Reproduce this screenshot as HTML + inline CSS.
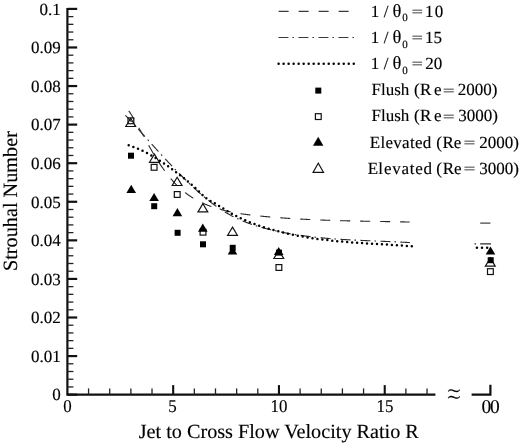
<!DOCTYPE html><html><head><meta charset="utf-8"><style>html,body{margin:0;padding:0;background:#fff;overflow:hidden;}svg{display:block;}text{font-family:"Liberation Serif","Times New Roman",serif;fill:#000;stroke:#000;stroke-width:0.15px;text-rendering:geometricPrecision;}</style></head><body>
<svg width="520" height="443" viewBox="0 0 520 443">
<rect width="520" height="443" fill="#fff"/>
<path d="M67.4 7.9 V394.65 H435.4" fill="none" stroke="#111" stroke-width="2.2"/>
<path d="M67.4 394.65 H77.2" stroke="#111" stroke-width="2.2"/>
<path d="M67.4 356.07 H77.2" stroke="#111" stroke-width="2.2"/>
<path d="M67.4 317.5 H77.2" stroke="#111" stroke-width="2.2"/>
<path d="M67.4 278.92 H77.2" stroke="#111" stroke-width="2.2"/>
<path d="M67.4 240.35 H77.2" stroke="#111" stroke-width="2.2"/>
<path d="M67.4 201.77 H77.2" stroke="#111" stroke-width="2.2"/>
<path d="M67.4 163.2 H77.2" stroke="#111" stroke-width="2.2"/>
<path d="M67.4 124.62 H77.2" stroke="#111" stroke-width="2.2"/>
<path d="M67.4 86.05 H77.2" stroke="#111" stroke-width="2.2"/>
<path d="M67.4 47.47 H77.2" stroke="#111" stroke-width="2.2"/>
<path d="M67.4 8.9 H77.2" stroke="#111" stroke-width="2.2"/>
<path d="M67.4 386.94 H73.4" stroke="#222" stroke-width="1.3"/>
<path d="M67.4 379.22 H73.4" stroke="#222" stroke-width="1.3"/>
<path d="M67.4 371.5 H73.4" stroke="#222" stroke-width="1.3"/>
<path d="M67.4 363.79 H73.4" stroke="#222" stroke-width="1.3"/>
<path d="M67.4 348.36 H73.4" stroke="#222" stroke-width="1.3"/>
<path d="M67.4 340.64 H73.4" stroke="#222" stroke-width="1.3"/>
<path d="M67.4 332.93 H73.4" stroke="#222" stroke-width="1.3"/>
<path d="M67.4 325.21 H73.4" stroke="#222" stroke-width="1.3"/>
<path d="M67.4 309.78 H73.4" stroke="#222" stroke-width="1.3"/>
<path d="M67.4 302.07 H73.4" stroke="#222" stroke-width="1.3"/>
<path d="M67.4 294.35 H73.4" stroke="#222" stroke-width="1.3"/>
<path d="M67.4 286.64 H73.4" stroke="#222" stroke-width="1.3"/>
<path d="M67.4 271.21 H73.4" stroke="#222" stroke-width="1.3"/>
<path d="M67.4 263.5 H73.4" stroke="#222" stroke-width="1.3"/>
<path d="M67.4 255.78 H73.4" stroke="#222" stroke-width="1.3"/>
<path d="M67.4 248.06 H73.4" stroke="#222" stroke-width="1.3"/>
<path d="M67.4 232.63 H73.4" stroke="#222" stroke-width="1.3"/>
<path d="M67.4 224.92 H73.4" stroke="#222" stroke-width="1.3"/>
<path d="M67.4 217.2 H73.4" stroke="#222" stroke-width="1.3"/>
<path d="M67.4 209.49 H73.4" stroke="#222" stroke-width="1.3"/>
<path d="M67.4 194.06 H73.4" stroke="#222" stroke-width="1.3"/>
<path d="M67.4 186.34 H73.4" stroke="#222" stroke-width="1.3"/>
<path d="M67.4 178.63 H73.4" stroke="#222" stroke-width="1.3"/>
<path d="M67.4 170.91 H73.4" stroke="#222" stroke-width="1.3"/>
<path d="M67.4 155.48 H73.4" stroke="#222" stroke-width="1.3"/>
<path d="M67.4 147.77 H73.4" stroke="#222" stroke-width="1.3"/>
<path d="M67.4 140.05 H73.4" stroke="#222" stroke-width="1.3"/>
<path d="M67.4 132.34 H73.4" stroke="#222" stroke-width="1.3"/>
<path d="M67.4 116.91 H73.4" stroke="#222" stroke-width="1.3"/>
<path d="M67.4 109.19 H73.4" stroke="#222" stroke-width="1.3"/>
<path d="M67.4 101.48 H73.4" stroke="#222" stroke-width="1.3"/>
<path d="M67.4 93.76 H73.4" stroke="#222" stroke-width="1.3"/>
<path d="M67.4 78.33 H73.4" stroke="#222" stroke-width="1.3"/>
<path d="M67.4 70.62 H73.4" stroke="#222" stroke-width="1.3"/>
<path d="M67.4 62.9 H73.4" stroke="#222" stroke-width="1.3"/>
<path d="M67.4 55.19 H73.4" stroke="#222" stroke-width="1.3"/>
<path d="M67.4 39.76 H73.4" stroke="#222" stroke-width="1.3"/>
<path d="M67.4 32.04 H73.4" stroke="#222" stroke-width="1.3"/>
<path d="M67.4 24.33 H73.4" stroke="#222" stroke-width="1.3"/>
<path d="M67.4 16.62 H73.4" stroke="#222" stroke-width="1.3"/>
<path d="M88.56 394.65 V388.4" stroke="#222" stroke-width="1.3"/>
<path d="M109.71 394.65 V388.4" stroke="#222" stroke-width="1.3"/>
<path d="M130.87 394.65 V388.4" stroke="#222" stroke-width="1.3"/>
<path d="M152.02 394.65 V388.4" stroke="#222" stroke-width="1.3"/>
<path d="M173.18 394.65 V385.1" stroke="#111" stroke-width="2.1"/>
<path d="M194.33 394.65 V388.4" stroke="#222" stroke-width="1.3"/>
<path d="M215.49 394.65 V388.4" stroke="#222" stroke-width="1.3"/>
<path d="M236.64 394.65 V388.4" stroke="#222" stroke-width="1.3"/>
<path d="M257.8 394.65 V388.4" stroke="#222" stroke-width="1.3"/>
<path d="M278.95 394.65 V385.1" stroke="#111" stroke-width="2.1"/>
<path d="M300.11 394.65 V388.4" stroke="#222" stroke-width="1.3"/>
<path d="M321.26 394.65 V388.4" stroke="#222" stroke-width="1.3"/>
<path d="M342.41 394.65 V388.4" stroke="#222" stroke-width="1.3"/>
<path d="M363.57 394.65 V388.4" stroke="#222" stroke-width="1.3"/>
<path d="M384.73 394.65 V385.1" stroke="#111" stroke-width="2.1"/>
<path d="M405.88 394.65 V388.4" stroke="#222" stroke-width="1.3"/>
<path d="M427.03 394.65 V388.4" stroke="#222" stroke-width="1.3"/>
<path d="M471.6 394.65 H490.4 V384.8" fill="none" stroke="#111" stroke-width="2.2"/>
<text x="60.7" y="400.4" font-size="17" text-anchor="end">0</text>
<text x="60.7" y="361.82" font-size="17" text-anchor="end">0.01</text>
<text x="60.7" y="323.25" font-size="17" text-anchor="end">0.02</text>
<text x="60.7" y="284.67" font-size="17" text-anchor="end">0.03</text>
<text x="60.7" y="246.1" font-size="17" text-anchor="end">0.04</text>
<text x="60.7" y="207.52" font-size="17" text-anchor="end">0.05</text>
<text x="60.7" y="168.95" font-size="17" text-anchor="end">0.06</text>
<text x="60.7" y="130.37" font-size="17" text-anchor="end">0.07</text>
<text x="60.7" y="91.8" font-size="17" text-anchor="end">0.08</text>
<text x="60.7" y="53.22" font-size="17" text-anchor="end">0.09</text>
<text x="60.7" y="14.65" font-size="17" text-anchor="end">0.1</text>
<text transform="translate(67.4 411.7) scale(0.94 1)" font-size="18" text-anchor="middle">0</text>
<text transform="translate(172.48 411.7) scale(0.94 1)" font-size="18" text-anchor="middle">5</text>
<text transform="translate(279 411.7) scale(0.94 1)" font-size="18" text-anchor="middle">10</text>
<text transform="translate(385.08 411.7) scale(0.94 1)" font-size="18" text-anchor="middle">15</text>
<text x="481.45" y="413" font-size="19.5" letter-spacing="-1.3">00</text>
<text transform="translate(444.96 403.2) scale(1 1.41)" font-size="18.9" style="font-family:NanumGothic,'Liberation Serif',serif;stroke-width:0.15px">&#8776;</text>
<text x="138.75" y="438.3" font-size="20.2">Jet to Cross Flow Velocity Ratio R</text>
<text transform="translate(16.8 271.1) rotate(-90)" font-size="20.25">Strouhal Number</text>
<path d="M128.7 110.8 L129.2 111.48 L129.7 112.19 L130.2 112.93 L130.7 113.69 L131.2 114.47 L131.7 115.28 L132.2 116.1 L132.7 116.94 L133.2 117.79 L133.7 118.66 L134.2 119.54 L134.7 120.42 L135.2 121.32 L135.7 122.22 L136.2 123.12 L136.7 124.02 L137.2 124.92 L137.7 125.81 L138.2 126.7 L138.7 127.59 L139.2 128.47 L139.7 129.34 L140.2 130.2 L140.7 131.07 L141.2 131.93 L141.7 132.8 L142.2 133.67 L142.7 134.54 L143.2 135.41 L143.7 136.3 L144.2 137.19 L144.7 138.09 L145.2 139 L145.7 139.91 L146.2 140.83 L146.7 141.75 L147.2 142.66 L147.7 143.58 L148.2 144.49 L148.7 145.39 L149.2 146.29 L149.7 147.19 L150.2 148.07 L150.7 148.95 L151.2 149.83 L151.7 150.69 L152.2 151.55 L152.7 152.41 L153.2 153.25 L153.7 154.09 L154.2 154.93 L154.7 155.75 L155.2 156.58 L155.7 157.39 L156.2 158.2 L156.7 159 L157.2 159.79 L157.7 160.58 L158.2 161.36 L158.7 162.13 L159.2 162.89 L159.7 163.65 L160.2 164.4 L160.7 165.15 L161.2 165.89 L161.7 166.62 L162.2 167.34 L162.7 168.06 L163.2 168.77 L163.7 169.47 L164.2 170.16 L164.7 170.85 L165.2 171.53 L165.7 172.2 L166.2 172.87 L166.7 173.52 L167.2 174.17 L167.7 174.82 L168.2 175.45 L168.7 176.08 L169.2 176.7 L169.7 177.31 L170.2 177.92 L170.7 178.51 L171.2 179.1 L171.7 179.69 L172.2 180.26 L172.7 180.83 L173.2 181.38 L173.7 181.93 L174.2 182.48 L174.7 183.01 L175.2 183.54 L175.7 184.06 L176.2 184.57 L176.7 185.08 L177.2 185.58 L177.7 186.07 L178.2 186.55 L178.7 187.03 L179.2 187.5 L179.7 187.96 L180.2 188.42 L180.7 188.87 L181.2 189.31 L181.7 189.75 L182.2 190.18 L182.7 190.6 L183.2 191.02 L183.7 191.43 L184.2 191.83 L184.7 192.23 L185.2 192.63 L185.7 193.01 L186.2 193.39 L186.7 193.77 L187.2 194.14 L187.7 194.5 L188.2 194.86 L188.7 195.21 L189.2 195.56 L189.7 195.9 L190.2 196.23 L190.7 196.56 L191.2 196.89 L191.7 197.21 L192.2 197.53 L192.7 197.84 L193.2 198.14 L193.7 198.44 L194.2 198.74 L194.7 199.03 L195.2 199.32 L195.7 199.6 L196.2 199.88 L196.7 200.15 L197.2 200.42 L197.7 200.68 L198.2 200.94 L198.7 201.2 L199.2 201.45 L199.7 201.7 L200.2 201.95 L200.7 202.19 L201.2 202.43 L201.7 202.66 L202.2 202.89 L202.7 203.12 L203.2 203.34 L203.7 203.56 L204.2 203.78 L204.7 203.99 L205.2 204.2 L205.7 204.41 L206.2 204.62 L206.7 204.82 L207.2 205.02 L207.7 205.21 L208.2 205.41 L208.7 205.6 L209.2 205.79 L209.7 205.97 L210.2 206.16 L210.7 206.34 L211.2 206.52 L211.7 206.69 L212.2 206.87 L212.7 207.04 L213.2 207.21 L213.7 207.38 L214.2 207.54 L214.7 207.71 L215.2 207.87 L215.7 208.03 L216.2 208.18 L216.7 208.34 L217.2 208.49 L217.7 208.64 L218.2 208.79 L218.7 208.94 L219.2 209.08 L219.7 209.22 L220.2 209.37 L220.7 209.5 L221.2 209.64 L221.7 209.78 L222.2 209.91 L222.7 210.04 L223.2 210.17 L223.7 210.3 L224.2 210.42 L224.7 210.55 L225.2 210.67 L225.7 210.79 L226.2 210.91 L226.7 211.02 L227.2 211.14 L227.7 211.25 L228.2 211.37 L228.7 211.48 L229.2 211.58 L229.7 211.69 L230.2 211.8 L230.7 211.9 L231.2 212 L231.7 212.11 L232.2 212.21 L232.7 212.3 L233.2 212.4 L233.7 212.5 L234.2 212.59 L234.7 212.68 L235.2 212.77 L235.7 212.86 L236.2 212.95 L236.7 213.04 L237.2 213.13 L237.7 213.21 L238.2 213.29 L238.7 213.38 L239.2 213.46 L239.7 213.54 L240.2 213.62 L240.7 213.69 L241.2 213.77 L241.7 213.85 L242.2 213.92 L242.7 213.99 L243.2 214.07 L243.7 214.14 L244.2 214.21 L244.7 214.28 L245.2 214.34 L245.7 214.41 L246.2 214.48 L246.7 214.54 L247.2 214.61 L247.7 214.67 L248.2 214.74 L248.7 214.8 L249.2 214.86 L249.7 214.92 L250.2 214.98 L250.7 215.04 L251.2 215.1 L251.7 215.16 L252.2 215.21 L252.7 215.27 L253.2 215.33 L253.7 215.38 L254.2 215.44 L254.7 215.49 L255.2 215.54 L255.7 215.6 L256.2 215.65 L256.7 215.7 L257.2 215.75 L257.7 215.8 L258.2 215.86 L258.7 215.91 L259.2 215.96 L259.7 216.01 L260.2 216.05 L260.7 216.1 L261.2 216.15 L261.7 216.2 L262.2 216.25 L262.7 216.3 L263.2 216.34 L263.7 216.39 L264.2 216.44 L264.7 216.48 L265.2 216.53 L265.7 216.58 L266.2 216.62 L266.7 216.67 L267.2 216.71 L267.7 216.76 L268.2 216.8 L268.7 216.84 L269.2 216.89 L269.7 216.93 L270.2 216.97 L270.7 217.02 L271.2 217.06 L271.7 217.1 L272.2 217.14 L272.7 217.18 L273.2 217.23 L273.7 217.27 L274.2 217.31 L274.7 217.35 L275.2 217.39 L275.7 217.43 L276.2 217.47 L276.7 217.51 L277.2 217.55 L277.7 217.58 L278.2 217.62 L278.7 217.66 L279.2 217.7 L279.7 217.74 L280.2 217.77 L280.7 217.81 L281.2 217.85 L281.7 217.88 L282.2 217.92 L282.7 217.96 L283.2 217.99 L283.7 218.03 L284.2 218.06 L284.7 218.1 L285.2 218.13 L285.7 218.17 L286.2 218.2 L286.7 218.23 L287.2 218.27 L287.7 218.3 L288.2 218.33 L288.7 218.37 L289.2 218.4 L289.7 218.43 L290.2 218.46 L290.7 218.5 L291.2 218.53 L291.7 218.56 L292.2 218.59 L292.7 218.62 L293.2 218.65 L293.7 218.68 L294.2 218.71 L294.7 218.74 L295.2 218.77 L295.7 218.8 L296.2 218.83 L296.7 218.86 L297.2 218.89 L297.7 218.92 L298.2 218.95 L298.7 218.97 L299.2 219 L299.7 219.03 L300.2 219.06 L300.7 219.08 L301.2 219.11 L301.7 219.14 L302.2 219.17 L302.7 219.19 L303.2 219.22 L303.7 219.24 L304.2 219.27 L304.7 219.29 L305.2 219.32 L305.7 219.35 L306.2 219.37 L306.7 219.39 L307.2 219.42 L307.7 219.44 L308.2 219.47 L308.7 219.49 L309.2 219.52 L309.7 219.54 L310.2 219.56 L310.7 219.59 L311.2 219.61 L311.7 219.63 L312.2 219.65 L312.7 219.68 L313.2 219.7 L313.7 219.72 L314.2 219.74 L314.7 219.76 L315.2 219.78 L315.7 219.81 L316.2 219.83 L316.7 219.85 L317.2 219.87 L317.7 219.89 L318.2 219.91 L318.7 219.93 L319.2 219.95 L319.7 219.97 L320.2 219.99 L320.7 220.01 L321.2 220.03 L321.7 220.05 L322.2 220.07 L322.7 220.08 L323.2 220.1 L323.7 220.12 L324.2 220.14 L324.7 220.16 L325.2 220.18 L325.7 220.19 L326.2 220.21 L326.7 220.23 L327.2 220.25 L327.7 220.26 L328.2 220.28 L328.7 220.3 L329.2 220.31 L329.7 220.33 L330.2 220.35 L330.7 220.36 L331.2 220.38 L331.7 220.4 L332.2 220.41 L332.7 220.43 L333.2 220.44 L333.7 220.46 L334.2 220.48 L334.7 220.49 L335.2 220.51 L335.7 220.52 L336.2 220.54 L336.7 220.55 L337.2 220.56 L337.7 220.58 L338.2 220.59 L338.7 220.61 L339.2 220.62 L339.7 220.64 L340.2 220.65 L340.7 220.66 L341.2 220.68 L341.7 220.69 L342.2 220.7 L342.7 220.72 L343.2 220.73 L343.7 220.74 L344.2 220.76 L344.7 220.77 L345.2 220.78 L345.7 220.8 L346.2 220.81 L346.7 220.82 L347.2 220.83 L347.7 220.85 L348.2 220.86 L348.7 220.87 L349.2 220.88 L349.7 220.89 L350.2 220.91 L350.7 220.92 L351.2 220.93 L351.7 220.94 L352.2 220.95 L352.7 220.96 L353.2 220.97 L353.7 220.99 L354.2 221 L354.7 221.01 L355.2 221.02 L355.7 221.03 L356.2 221.04 L356.7 221.05 L357.2 221.06 L357.7 221.07 L358.2 221.08 L358.7 221.09 L359.2 221.1 L359.7 221.11 L360.2 221.12 L360.7 221.13 L361.2 221.14 L361.7 221.15 L362.2 221.16 L362.7 221.17 L363.2 221.18 L363.7 221.19 L364.2 221.2 L364.7 221.21 L365.2 221.22 L365.7 221.23 L366.2 221.24 L366.7 221.25 L367.2 221.26 L367.7 221.27 L368.2 221.28 L368.7 221.29 L369.2 221.3 L369.7 221.31 L370.2 221.32 L370.7 221.33 L371.2 221.33 L371.7 221.34 L372.2 221.35 L372.7 221.36 L373.2 221.37 L373.7 221.38 L374.2 221.39 L374.7 221.4 L375.2 221.41 L375.7 221.41 L376.2 221.42 L376.7 221.43 L377.2 221.44 L377.7 221.45 L378.2 221.46 L378.7 221.47 L379.2 221.47 L379.7 221.48 L380.2 221.49 L380.7 221.5 L381.2 221.51 L381.7 221.52 L382.2 221.53 L382.7 221.53 L383.2 221.54 L383.7 221.55 L384.2 221.56 L384.7 221.57 L385.2 221.58 L385.7 221.59 L386.2 221.59 L386.7 221.6 L387.2 221.61 L387.7 221.62 L388.2 221.63 L388.7 221.64 L389.2 221.65 L389.7 221.65 L390.2 221.66 L390.7 221.67 L391.2 221.68 L391.7 221.69 L392.2 221.7 L392.7 221.71 L393.2 221.71 L393.7 221.72 L394.2 221.73 L394.7 221.74 L395.2 221.75 L395.7 221.76 L396.2 221.77 L396.7 221.78 L397.2 221.78 L397.7 221.79 L398.2 221.8 L398.7 221.81 L399.2 221.82 L399.7 221.83 L400.2 221.84 L400.7 221.85 L401.2 221.86 L401.7 221.87 L402.2 221.87 L402.7 221.88 L403.2 221.89 L403.7 221.9 L404.2 221.91 L404.7 221.92 L405.2 221.93 L405.7 221.94 L406.2 221.95 L406.7 221.96 L407.2 221.97 L407.7 221.98 L408.2 221.99 L408.7 222 L409.2 222.01 L409.7 222.02" fill="none" stroke="#2a2a2a" stroke-width="1.1" stroke-dasharray="10 10" stroke-dashoffset="0.11"/>
<path d="M125.4 115.27 L125.9 115.79 L126.4 116.31 L126.9 116.84 L127.4 117.37 L127.9 117.89 L128.4 118.43 L128.9 118.96 L129.4 119.49 L129.9 120.03 L130.4 120.56 L130.9 121.1 L131.4 121.64 L131.9 122.18 L132.4 122.72 L132.9 123.26 L133.4 123.81 L133.9 124.35 L134.4 124.9 L134.9 125.45 L135.4 125.99 L135.9 126.54 L136.4 127.09 L136.9 127.64 L137.4 128.19 L137.9 128.75 L138.4 129.3 L138.9 129.85 L139.4 130.41 L139.9 130.96 L140.4 131.52 L140.9 132.07 L141.4 132.63 L141.9 133.18 L142.4 133.74 L142.9 134.3 L143.4 134.86 L143.9 135.41 L144.4 135.97 L144.9 136.53 L145.4 137.09 L145.9 137.64 L146.4 138.2 L146.9 138.76 L147.4 139.32 L147.9 139.88 L148.4 140.43 L148.9 140.99 L149.4 141.55 L149.9 142.11 L150.4 142.66 L150.9 143.22 L151.4 143.77 L151.9 144.33 L152.4 144.88 L152.9 145.44 L153.4 145.99 L153.9 146.55 L154.4 147.1 L154.9 147.65 L155.4 148.2 L155.9 148.75 L156.4 149.3 L156.9 149.85 L157.4 150.4 L157.9 150.95 L158.4 151.5 L158.9 152.05 L159.4 152.59 L159.9 153.14 L160.4 153.69 L160.9 154.23 L161.4 154.77 L161.9 155.32 L162.4 155.86 L162.9 156.4 L163.4 156.94 L163.9 157.48 L164.4 158.02 L164.9 158.56 L165.4 159.1 L165.9 159.63 L166.4 160.17 L166.9 160.7 L167.4 161.24 L167.9 161.77 L168.4 162.3 L168.9 162.83 L169.4 163.36 L169.9 163.89 L170.4 164.42 L170.9 164.95 L171.4 165.47 L171.9 166 L172.4 166.52 L172.9 167.04 L173.4 167.57 L173.9 168.09 L174.4 168.61 L174.9 169.12 L175.4 169.64 L175.9 170.16 L176.4 170.67 L176.9 171.19 L177.4 171.7 L177.9 172.21 L178.4 172.72 L178.9 173.23 L179.4 173.74 L179.9 174.24 L180.4 174.75 L180.9 175.25 L181.4 175.75 L181.9 176.25 L182.4 176.75 L182.9 177.25 L183.4 177.75 L183.9 178.24 L184.4 178.74 L184.9 179.23 L185.4 179.72 L185.9 180.21 L186.4 180.7 L186.9 181.18 L187.4 181.67 L187.9 182.15 L188.4 182.64 L188.9 183.12 L189.4 183.59 L189.9 184.07 L190.4 184.55 L190.9 185.02 L191.4 185.49 L191.9 185.96 L192.4 186.43 L192.9 186.9 L193.4 187.37 L193.9 187.83 L194.4 188.29 L194.9 188.75 L195.4 189.21 L195.9 189.67 L196.4 190.12 L196.9 190.57 L197.4 191.02 L197.9 191.47 L198.4 191.92 L198.9 192.36 L199.4 192.8 L199.9 193.24 L200.4 193.68 L200.9 194.11 L201.4 194.55 L201.9 194.98 L202.4 195.41 L202.9 195.83 L203.4 196.26 L203.9 196.68 L204.4 197.1 L204.9 197.52 L205.4 197.93 L205.9 198.34 L206.4 198.75 L206.9 199.16 L207.4 199.56 L207.9 199.97 L208.4 200.37 L208.9 200.76 L209.4 201.16 L209.9 201.55 L210.4 201.94 L210.9 202.32 L211.4 202.71 L211.9 203.09 L212.4 203.47 L212.9 203.84 L213.4 204.21 L213.9 204.58 L214.4 204.95 L214.9 205.31 L215.4 205.68 L215.9 206.03 L216.4 206.39 L216.9 206.74 L217.4 207.09 L217.9 207.44 L218.4 207.78 L218.9 208.12 L219.4 208.46 L219.9 208.79 L220.4 209.12 L220.9 209.45 L221.4 209.77 L221.9 210.1 L222.4 210.42 L222.9 210.73 L223.4 211.05 L223.9 211.36 L224.4 211.66 L224.9 211.97 L225.4 212.27 L225.9 212.57 L226.4 212.86 L226.9 213.15 L227.4 213.44 L227.9 213.73 L228.4 214.01 L228.9 214.29 L229.4 214.57 L229.9 214.84 L230.4 215.11 L230.9 215.38 L231.4 215.65 L231.9 215.91 L232.4 216.17 L232.9 216.43 L233.4 216.68 L233.9 216.94 L234.4 217.19 L234.9 217.43 L235.4 217.68 L235.9 217.92 L236.4 218.16 L236.9 218.39 L237.4 218.63 L237.9 218.86 L238.4 219.09 L238.9 219.31 L239.4 219.54 L239.9 219.76 L240.4 219.98 L240.9 220.19 L241.4 220.41 L241.9 220.62 L242.4 220.83 L242.9 221.04 L243.4 221.24 L243.9 221.45 L244.4 221.65 L244.9 221.85 L245.4 222.04 L245.9 222.24 L246.4 222.43 L246.9 222.62 L247.4 222.81 L247.9 222.99 L248.4 223.18 L248.9 223.36 L249.4 223.54 L249.9 223.72 L250.4 223.9 L250.9 224.07 L251.4 224.24 L251.9 224.42 L252.4 224.58 L252.9 224.75 L253.4 224.92 L253.9 225.08 L254.4 225.24 L254.9 225.4 L255.4 225.56 L255.9 225.72 L256.4 225.88 L256.9 226.03 L257.4 226.18 L257.9 226.33 L258.4 226.48 L258.9 226.63 L259.4 226.78 L259.9 226.92 L260.4 227.07 L260.9 227.21 L261.4 227.35 L261.9 227.49 L262.4 227.63 L262.9 227.76 L263.4 227.9 L263.9 228.03 L264.4 228.17 L264.9 228.3 L265.4 228.43 L265.9 228.56 L266.4 228.69 L266.9 228.81 L267.4 228.94 L267.9 229.06 L268.4 229.19 L268.9 229.31 L269.4 229.43 L269.9 229.55 L270.4 229.67 L270.9 229.79 L271.4 229.91 L271.9 230.03 L272.4 230.15 L272.9 230.26 L273.4 230.38 L273.9 230.49 L274.4 230.6 L274.9 230.72 L275.4 230.83 L275.9 230.94 L276.4 231.05 L276.9 231.15 L277.4 231.26 L277.9 231.37 L278.4 231.47 L278.9 231.58 L279.4 231.68 L279.9 231.79 L280.4 231.89 L280.9 231.99 L281.4 232.09 L281.9 232.19 L282.4 232.29 L282.9 232.39 L283.4 232.49 L283.9 232.58 L284.4 232.68 L284.9 232.77 L285.4 232.87 L285.9 232.96 L286.4 233.05 L286.9 233.15 L287.4 233.24 L287.9 233.33 L288.4 233.42 L288.9 233.51 L289.4 233.59 L289.9 233.68 L290.4 233.77 L290.9 233.85 L291.4 233.94 L291.9 234.02 L292.4 234.1 L292.9 234.19 L293.4 234.27 L293.9 234.35 L294.4 234.43 L294.9 234.51 L295.4 234.59 L295.9 234.67 L296.4 234.75 L296.9 234.82 L297.4 234.9 L297.9 234.97 L298.4 235.05 L298.9 235.12 L299.4 235.2 L299.9 235.27 L300.4 235.34 L300.9 235.41 L301.4 235.48 L301.9 235.55 L302.4 235.62 L302.9 235.69 L303.4 235.76 L303.9 235.83 L304.4 235.89 L304.9 235.96 L305.4 236.03 L305.9 236.09 L306.4 236.15 L306.9 236.22 L307.4 236.28 L307.9 236.34 L308.4 236.41 L308.9 236.47 L309.4 236.53 L309.9 236.59 L310.4 236.65 L310.9 236.71 L311.4 236.76 L311.9 236.82 L312.4 236.88 L312.9 236.94 L313.4 236.99 L313.9 237.05 L314.4 237.1 L314.9 237.16 L315.4 237.21 L315.9 237.26 L316.4 237.32 L316.9 237.37 L317.4 237.42 L317.9 237.47 L318.4 237.52 L318.9 237.57 L319.4 237.62 L319.9 237.67 L320.4 237.72 L320.9 237.77 L321.4 237.82 L321.9 237.86 L322.4 237.91 L322.9 237.96 L323.4 238 L323.9 238.05 L324.4 238.09 L324.9 238.14 L325.4 238.18 L325.9 238.22 L326.4 238.27 L326.9 238.31 L327.4 238.35 L327.9 238.39 L328.4 238.44 L328.9 238.48 L329.4 238.52 L329.9 238.56 L330.4 238.6 L330.9 238.63 L331.4 238.67 L331.9 238.71 L332.4 238.75 L332.9 238.79 L333.4 238.82 L333.9 238.86 L334.4 238.9 L334.9 238.93 L335.4 238.97 L335.9 239 L336.4 239.04 L336.9 239.07 L337.4 239.11 L337.9 239.14 L338.4 239.18 L338.9 239.21 L339.4 239.24 L339.9 239.27 L340.4 239.31 L340.9 239.34 L341.4 239.37 L341.9 239.4 L342.4 239.43 L342.9 239.46 L343.4 239.49 L343.9 239.52 L344.4 239.55 L344.9 239.58 L345.4 239.61 L345.9 239.64 L346.4 239.67 L346.9 239.7 L347.4 239.73 L347.9 239.75 L348.4 239.78 L348.9 239.81 L349.4 239.84 L349.9 239.86 L350.4 239.89 L350.9 239.92 L351.4 239.94 L351.9 239.97 L352.4 239.99 L352.9 240.02 L353.4 240.04 L353.9 240.07 L354.4 240.09 L354.9 240.12 L355.4 240.14 L355.9 240.17 L356.4 240.19 L356.9 240.21 L357.4 240.24 L357.9 240.26 L358.4 240.28 L358.9 240.31 L359.4 240.33 L359.9 240.35 L360.4 240.38 L360.9 240.4 L361.4 240.42 L361.9 240.44 L362.4 240.47 L362.9 240.49 L363.4 240.51 L363.9 240.53 L364.4 240.55 L364.9 240.57 L365.4 240.6 L365.9 240.62 L366.4 240.64 L366.9 240.66 L367.4 240.68 L367.9 240.7 L368.4 240.72 L368.9 240.74 L369.4 240.76 L369.9 240.78 L370.4 240.8 L370.9 240.83 L371.4 240.85 L371.9 240.87 L372.4 240.89 L372.9 240.91 L373.4 240.93 L373.9 240.95 L374.4 240.97 L374.9 240.99 L375.4 241.01 L375.9 241.03 L376.4 241.05 L376.9 241.07 L377.4 241.09 L377.9 241.11 L378.4 241.13 L378.9 241.15 L379.4 241.17 L379.9 241.19 L380.4 241.21 L380.9 241.23 L381.4 241.25 L381.9 241.27 L382.4 241.29 L382.9 241.31 L383.4 241.33 L383.9 241.35 L384.4 241.37 L384.9 241.39 L385.4 241.41 L385.9 241.43 L386.4 241.45 L386.9 241.47 L387.4 241.49 L387.9 241.51 L388.4 241.54 L388.9 241.56 L389.4 241.58 L389.9 241.6 L390.4 241.62 L390.9 241.64 L391.4 241.66 L391.9 241.69 L392.4 241.71 L392.9 241.73 L393.4 241.75 L393.9 241.77 L394.4 241.8 L394.9 241.82 L395.4 241.84 L395.9 241.86 L396.4 241.89 L396.9 241.91 L397.4 241.93 L397.9 241.96 L398.4 241.98 L398.9 242.01 L399.4 242.03 L399.9 242.05 L400.4 242.08 L400.9 242.1 L401.4 242.13 L401.9 242.15 L402.4 242.18 L402.9 242.2 L403.4 242.23 L403.9 242.26 L404.4 242.28 L404.9 242.31 L405.4 242.33 L405.9 242.36 L406.4 242.39 L406.9 242.42 L407.4 242.44 L407.9 242.47 L408.4 242.5 L408.9 242.53 L409.4 242.56 L409.9 242.59" fill="none" stroke="#2a2a2a" stroke-width="1.1" stroke-dasharray="10 4 1.6 4.4" stroke-dashoffset="0.98"/>
<path d="M128.7 145.21 L129.2 145.38 L129.7 145.55 L130.2 145.72 L130.7 145.9 L131.2 146.08 L131.7 146.26 L132.2 146.45 L132.7 146.63 L133.2 146.82 L133.7 147.02 L134.2 147.21 L134.7 147.41 L135.2 147.61 L135.7 147.82 L136.2 148.02 L136.7 148.23 L137.2 148.45 L137.7 148.66 L138.2 148.88 L138.7 149.1 L139.2 149.32 L139.7 149.55 L140.2 149.77 L140.7 150 L141.2 150.24 L141.7 150.47 L142.2 150.71 L142.7 150.95 L143.2 151.19 L143.7 151.44 L144.2 151.69 L144.7 151.94 L145.2 152.19 L145.7 152.45 L146.2 152.71 L146.7 152.97 L147.2 153.23 L147.7 153.5 L148.2 153.77 L148.7 154.04 L149.2 154.31 L149.7 154.58 L150.2 154.86 L150.7 155.14 L151.2 155.43 L151.7 155.71 L152.2 156 L152.7 156.29 L153.2 156.58 L153.7 156.87 L154.2 157.17 L154.7 157.47 L155.2 157.77 L155.7 158.08 L156.2 158.38 L156.7 158.69 L157.2 159 L157.7 159.31 L158.2 159.63 L158.7 159.95 L159.2 160.27 L159.7 160.59 L160.2 160.91 L160.7 161.24 L161.2 161.57 L161.7 161.9 L162.2 162.23 L162.7 162.57 L163.2 162.9 L163.7 163.24 L164.2 163.58 L164.7 163.93 L165.2 164.27 L165.7 164.62 L166.2 164.97 L166.7 165.32 L167.2 165.68 L167.7 166.03 L168.2 166.39 L168.7 166.75 L169.2 167.11 L169.7 167.47 L170.2 167.83 L170.7 168.2 L171.2 168.56 L171.7 168.93 L172.2 169.3 L172.7 169.67 L173.2 170.04 L173.7 170.42 L174.2 170.79 L174.7 171.17 L175.2 171.54 L175.7 171.92 L176.2 172.3 L176.7 172.68 L177.2 173.06 L177.7 173.44 L178.2 173.82 L178.7 174.2 L179.2 174.58 L179.7 174.97 L180.2 175.35 L180.7 175.73 L181.2 176.12 L181.7 176.5 L182.2 176.89 L182.7 177.28 L183.2 177.67 L183.7 178.06 L184.2 178.45 L184.7 178.84 L185.2 179.24 L185.7 179.64 L186.2 180.04 L186.7 180.44 L187.2 180.85 L187.7 181.26 L188.2 181.67 L188.7 182.08 L189.2 182.5 L189.7 182.92 L190.2 183.35 L190.7 183.78 L191.2 184.21 L191.7 184.65 L192.2 185.09 L192.7 185.54 L193.2 185.99 L193.7 186.45 L194.2 186.91 L194.7 187.38 L195.2 187.85 L195.7 188.33 L196.2 188.81 L196.7 189.3 L197.2 189.8 L197.7 190.29 L198.2 190.79 L198.7 191.29 L199.2 191.79 L199.7 192.28 L200.2 192.78 L200.7 193.27 L201.2 193.75 L201.7 194.23 L202.2 194.7 L202.7 195.17 L203.2 195.62 L203.7 196.06 L204.2 196.5 L204.7 196.92 L205.2 197.33 L205.7 197.72 L206.2 198.1 L206.7 198.46 L207.2 198.81 L207.7 199.15 L208.2 199.48 L208.7 199.8 L209.2 200.11 L209.7 200.41 L210.2 200.71 L210.7 201 L211.2 201.29 L211.7 201.58 L212.2 201.86 L212.7 202.15 L213.2 202.43 L213.7 202.72 L214.2 203.01 L214.7 203.3 L215.2 203.6 L215.7 203.9 L216.2 204.2 L216.7 204.5 L217.2 204.8 L217.7 205.11 L218.2 205.41 L218.7 205.72 L219.2 206.03 L219.7 206.34 L220.2 206.65 L220.7 206.96 L221.2 207.27 L221.7 207.58 L222.2 207.9 L222.7 208.21 L223.2 208.52 L223.7 208.83 L224.2 209.14 L224.7 209.45 L225.2 209.76 L225.7 210.07 L226.2 210.38 L226.7 210.68 L227.2 210.99 L227.7 211.29 L228.2 211.59 L228.7 211.89 L229.2 212.19 L229.7 212.48 L230.2 212.78 L230.7 213.07 L231.2 213.36 L231.7 213.64 L232.2 213.92 L232.7 214.2 L233.2 214.48 L233.7 214.75 L234.2 215.03 L234.7 215.29 L235.2 215.56 L235.7 215.82 L236.2 216.08 L236.7 216.34 L237.2 216.6 L237.7 216.85 L238.2 217.1 L238.7 217.35 L239.2 217.59 L239.7 217.84 L240.2 218.08 L240.7 218.32 L241.2 218.55 L241.7 218.79 L242.2 219.02 L242.7 219.25 L243.2 219.47 L243.7 219.7 L244.2 219.92 L244.7 220.14 L245.2 220.36 L245.7 220.57 L246.2 220.79 L246.7 221 L247.2 221.21 L247.7 221.42 L248.2 221.62 L248.7 221.83 L249.2 222.03 L249.7 222.23 L250.2 222.43 L250.7 222.62 L251.2 222.82 L251.7 223.01 L252.2 223.2 L252.7 223.39 L253.2 223.58 L253.7 223.77 L254.2 223.95 L254.7 224.13 L255.2 224.32 L255.7 224.5 L256.2 224.67 L256.7 224.85 L257.2 225.03 L257.7 225.2 L258.2 225.37 L258.7 225.55 L259.2 225.72 L259.7 225.88 L260.2 226.05 L260.7 226.22 L261.2 226.38 L261.7 226.55 L262.2 226.71 L262.7 226.87 L263.2 227.03 L263.7 227.19 L264.2 227.35 L264.7 227.51 L265.2 227.66 L265.7 227.82 L266.2 227.97 L266.7 228.12 L267.2 228.28 L267.7 228.43 L268.2 228.58 L268.7 228.72 L269.2 228.87 L269.7 229.02 L270.2 229.16 L270.7 229.31 L271.2 229.45 L271.7 229.59 L272.2 229.74 L272.7 229.88 L273.2 230.02 L273.7 230.15 L274.2 230.29 L274.7 230.43 L275.2 230.56 L275.7 230.7 L276.2 230.83 L276.7 230.96 L277.2 231.09 L277.7 231.22 L278.2 231.35 L278.7 231.48 L279.2 231.61 L279.7 231.74 L280.2 231.86 L280.7 231.99 L281.2 232.11 L281.7 232.23 L282.2 232.35 L282.7 232.47 L283.2 232.59 L283.7 232.71 L284.2 232.83 L284.7 232.95 L285.2 233.06 L285.7 233.18 L286.2 233.29 L286.7 233.41 L287.2 233.52 L287.7 233.63 L288.2 233.74 L288.7 233.85 L289.2 233.96 L289.7 234.07 L290.2 234.18 L290.7 234.29 L291.2 234.39 L291.7 234.5 L292.2 234.6 L292.7 234.7 L293.2 234.81 L293.7 234.91 L294.2 235.01 L294.7 235.11 L295.2 235.21 L295.7 235.31 L296.2 235.4 L296.7 235.5 L297.2 235.6 L297.7 235.69 L298.2 235.79 L298.7 235.88 L299.2 235.97 L299.7 236.07 L300.2 236.16 L300.7 236.25 L301.2 236.34 L301.7 236.43 L302.2 236.52 L302.7 236.6 L303.2 236.69 L303.7 236.78 L304.2 236.86 L304.7 236.95 L305.2 237.03 L305.7 237.11 L306.2 237.2 L306.7 237.28 L307.2 237.36 L307.7 237.44 L308.2 237.52 L308.7 237.6 L309.2 237.68 L309.7 237.76 L310.2 237.83 L310.7 237.91 L311.2 237.99 L311.7 238.06 L312.2 238.13 L312.7 238.21 L313.2 238.28 L313.7 238.35 L314.2 238.43 L314.7 238.5 L315.2 238.57 L315.7 238.64 L316.2 238.71 L316.7 238.78 L317.2 238.85 L317.7 238.91 L318.2 238.98 L318.7 239.05 L319.2 239.11 L319.7 239.18 L320.2 239.24 L320.7 239.31 L321.2 239.37 L321.7 239.43 L322.2 239.5 L322.7 239.56 L323.2 239.62 L323.7 239.68 L324.2 239.74 L324.7 239.8 L325.2 239.86 L325.7 239.92 L326.2 239.98 L326.7 240.03 L327.2 240.09 L327.7 240.15 L328.2 240.2 L328.7 240.26 L329.2 240.32 L329.7 240.37 L330.2 240.42 L330.7 240.48 L331.2 240.53 L331.7 240.58 L332.2 240.64 L332.7 240.69 L333.2 240.74 L333.7 240.79 L334.2 240.84 L334.7 240.89 L335.2 240.94 L335.7 240.99 L336.2 241.04 L336.7 241.09 L337.2 241.14 L337.7 241.18 L338.2 241.23 L338.7 241.28 L339.2 241.32 L339.7 241.37 L340.2 241.41 L340.7 241.46 L341.2 241.5 L341.7 241.55 L342.2 241.59 L342.7 241.64 L343.2 241.68 L343.7 241.72 L344.2 241.77 L344.7 241.81 L345.2 241.85 L345.7 241.89 L346.2 241.93 L346.7 241.97 L347.2 242.01 L347.7 242.05 L348.2 242.09 L348.7 242.13 L349.2 242.17 L349.7 242.21 L350.2 242.25 L350.7 242.29 L351.2 242.33 L351.7 242.37 L352.2 242.4 L352.7 242.44 L353.2 242.48 L353.7 242.52 L354.2 242.55 L354.7 242.59 L355.2 242.62 L355.7 242.66 L356.2 242.7 L356.7 242.73 L357.2 242.77 L357.7 242.8 L358.2 242.84 L358.7 242.87 L359.2 242.91 L359.7 242.94 L360.2 242.97 L360.7 243.01 L361.2 243.04 L361.7 243.07 L362.2 243.11 L362.7 243.14 L363.2 243.17 L363.7 243.2 L364.2 243.24 L364.7 243.27 L365.2 243.3 L365.7 243.33 L366.2 243.37 L366.7 243.4 L367.2 243.43 L367.7 243.46 L368.2 243.49 L368.7 243.52 L369.2 243.55 L369.7 243.58 L370.2 243.62 L370.7 243.65 L371.2 243.68 L371.7 243.71 L372.2 243.74 L372.7 243.77 L373.2 243.8 L373.7 243.83 L374.2 243.86 L374.7 243.89 L375.2 243.92 L375.7 243.95 L376.2 243.98 L376.7 244.01 L377.2 244.04 L377.7 244.07 L378.2 244.1 L378.7 244.13 L379.2 244.16 L379.7 244.19 L380.2 244.22 L380.7 244.25 L381.2 244.28 L381.7 244.31 L382.2 244.34 L382.7 244.36 L383.2 244.39 L383.7 244.42 L384.2 244.45 L384.7 244.48 L385.2 244.51 L385.7 244.54 L386.2 244.57 L386.7 244.6 L387.2 244.63 L387.7 244.66 L388.2 244.69 L388.7 244.72 L389.2 244.75 L389.7 244.78 L390.2 244.81 L390.7 244.84 L391.2 244.87 L391.7 244.91 L392.2 244.94 L392.7 244.97 L393.2 245 L393.7 245.03 L394.2 245.06 L394.7 245.09 L395.2 245.12 L395.7 245.15 L396.2 245.19 L396.7 245.22 L397.2 245.25 L397.7 245.28 L398.2 245.31 L398.7 245.35 L399.2 245.38 L399.7 245.41 L400.2 245.44 L400.7 245.48 L401.2 245.51 L401.7 245.54 L402.2 245.58 L402.7 245.61 L403.2 245.65 L403.7 245.68 L404.2 245.71 L404.7 245.75 L405.2 245.78 L405.7 245.82 L406.2 245.85 L406.7 245.89 L407.2 245.93 L407.7 245.96 L408.2 246 L408.7 246.03 L409.2 246.07 L409.7 246.11 L410.2 246.15 L410.7 246.18 L411.2 246.22 L411.7 246.26 L411.8 246.27" fill="none" stroke="#000" stroke-width="2.5" stroke-linecap="round" stroke-dasharray="0 4.9834"/>
<path d="M480.2 223.1 H490.4" stroke="#2a2a2a" stroke-width="1.1"/>
<path d="M474.5 243.9 H476 M480.2 243.9 H491" stroke="#2a2a2a" stroke-width="1.1"/>
<circle cx="476.9" cy="247.7" r="1.25" fill="#000"/>
<circle cx="482" cy="247.7" r="1.25" fill="#000"/>
<circle cx="487.2" cy="247.7" r="1.25" fill="#000"/>
<rect x="128" y="117.9" width="5.8" height="5.8" fill="none" stroke="#111" stroke-width="1.2"/>
<rect x="151.2" y="164.4" width="5.8" height="5.8" fill="none" stroke="#111" stroke-width="1.2"/>
<rect x="174.3" y="191.6" width="5.8" height="5.8" fill="none" stroke="#111" stroke-width="1.2"/>
<rect x="200.1" y="229.3" width="5.8" height="5.8" fill="none" stroke="#111" stroke-width="1.2"/>
<rect x="276" y="264.6" width="5.8" height="5.8" fill="none" stroke="#111" stroke-width="1.2"/>
<rect x="487.5" y="268.7" width="5.8" height="5.8" fill="none" stroke="#111" stroke-width="1.2"/>
<path d="M130.7 118.3 L135.6 126.5 L125.8 126.5 Z" fill="none" stroke="#111" stroke-width="1.2" stroke-linejoin="miter"/>
<path d="M154.4 154.1 L159.3 162.3 L149.5 162.3 Z" fill="none" stroke="#111" stroke-width="1.2" stroke-linejoin="miter"/>
<path d="M177.1 177.3 L182 185.5 L172.2 185.5 Z" fill="none" stroke="#111" stroke-width="1.2" stroke-linejoin="miter"/>
<path d="M202.9 203.7 L207.8 211.9 L198 211.9 Z" fill="none" stroke="#111" stroke-width="1.2" stroke-linejoin="miter"/>
<path d="M232.5 227.1 L237.4 235.3 L227.6 235.3 Z" fill="none" stroke="#111" stroke-width="1.2" stroke-linejoin="miter"/>
<path d="M278.8 250.3 L283.7 258.5 L273.9 258.5 Z" fill="none" stroke="#111" stroke-width="1.2" stroke-linejoin="miter"/>
<path d="M490.3 257.9 L495.2 266.1 L485.4 266.1 Z" fill="none" stroke="#111" stroke-width="1.2" stroke-linejoin="miter"/>
<rect x="128" y="152.7" width="6" height="6" fill="#000"/>
<rect x="151.2" y="203.2" width="6" height="6" fill="#000"/>
<rect x="174.6" y="229.8" width="6" height="6" fill="#000"/>
<rect x="200" y="241.3" width="6" height="6" fill="#000"/>
<rect x="229.7" y="244.8" width="6" height="6" fill="#000"/>
<rect x="276" y="249.6" width="6" height="6" fill="#000"/>
<rect x="487.7" y="257.2" width="6" height="6" fill="#000"/>
<path d="M131.2 184.8 L136 193 L126.4 193 Z" fill="#000"/>
<path d="M154.1 192.9 L158.9 201.1 L149.3 201.1 Z" fill="#000"/>
<path d="M177.4 208.1 L182.2 216.3 L172.6 216.3 Z" fill="#000"/>
<path d="M202.8 223.5 L207.6 231.7 L198 231.7 Z" fill="#000"/>
<path d="M232.5 246.4 L237.3 254.6 L227.7 254.6 Z" fill="#000"/>
<path d="M278.7 246.9 L283.5 255.1 L273.9 255.1 Z" fill="#000"/>
<path d="M490.5 246.4 L495.3 254.6 L485.7 254.6 Z" fill="#000"/>
<path d="M278.6 11.4 H349" fill="none" stroke="#3a3a3a" stroke-width="1.1" stroke-dasharray="10 10"/>
<path d="M278.4 37.5 H355" fill="none" stroke="#3a3a3a" stroke-width="1.1" stroke-dasharray="10 4 1.6 4.4"/>
<path d="M278.6 63.8 H353.9" fill="none" stroke="#000" stroke-width="2.5" stroke-linecap="round" stroke-dasharray="0 5.01"/>
<text y="16.5" font-size="17"><tspan x="370.85">1</tspan><tspan x="383.85">/</tspan><tspan x="392.5" font-size="18.5">&#952;</tspan><tspan x="402.3" dy="4.9" font-size="11">0</tspan><tspan y="16.5" x="425.1">1</tspan><tspan y="16.5" x="434.75">0</tspan></text>
<text transform="translate(411.5 15.6) scale(1.2 0.8)" font-size="17" style="stroke-width:0.1px">=</text>
<text y="42.7" font-size="17"><tspan x="370.85">1</tspan><tspan x="383.85">/</tspan><tspan x="392.5" font-size="18.5">&#952;</tspan><tspan x="402.3" dy="4.9" font-size="11">0</tspan><tspan y="42.7" x="425.1">1</tspan><tspan y="42.7" x="433.4">5</tspan></text>
<text transform="translate(411.5 41.8) scale(1.2 0.8)" font-size="17" style="stroke-width:0.1px">=</text>
<text y="68.8" font-size="17"><tspan x="370.85">1</tspan><tspan x="383.85">/</tspan><tspan x="392.5" font-size="18.5">&#952;</tspan><tspan x="402.3" dy="4.9" font-size="11">0</tspan><tspan y="68.8" x="425.25">20</tspan></text>
<text transform="translate(411.5 67.9) scale(1.2 0.8)" font-size="17" style="stroke-width:0.1px">=</text>
<rect x="315.3" y="87.6" width="6" height="6" fill="#000"/>
<rect x="315.4" y="113.7" width="5.8" height="5.8" fill="none" stroke="#111" stroke-width="1.2"/>
<path d="M318.2 136.8 L323.4 145.8 L313 145.8 Z" fill="#000"/>
<path d="M318.3 163.3 L323.5 172.3 L313.1 172.3 Z" fill="none" stroke="#111" stroke-width="1.2" stroke-linejoin="miter"/>
<text transform="translate(442.7 94.5) scale(1.25 0.8)" font-size="17" style="stroke-width:0.1px">=</text>
<text transform="translate(442.7 120.5) scale(1.25 0.8)" font-size="17" style="stroke-width:0.1px">=</text>
<text transform="translate(463.6 147.3) scale(1.25 0.8)" font-size="17" style="stroke-width:0.1px">=</text>
<text transform="translate(463.6 173.4) scale(1.25 0.8)" font-size="17" style="stroke-width:0.1px">=</text>
<text y="95.4" font-size="17"><tspan x="371.5">Flush</tspan><tspan x="413.9">(</tspan><tspan x="419.9">R</tspan><tspan x="434.1">e</tspan><tspan x="457.7">2000)</tspan></text>
<text y="121.4" font-size="17"><tspan x="371.5">Flush</tspan><tspan x="413.9">(</tspan><tspan x="419.9">R</tspan><tspan x="434.1">e</tspan><tspan x="458.2">3000)</tspan></text>
<text y="148.2" font-size="17"><tspan x="369.7" textLength="61.6" lengthAdjust="spacing">Elevated</tspan><tspan x="436.2">(</tspan><tspan x="442.5">Re</tspan><tspan x="479.2">2000)</tspan></text>
<text y="174.3" font-size="17"><tspan x="367.8">El</tspan><tspan x="384.1" textLength="48" lengthAdjust="spacing">evated</tspan><tspan x="436.2">(</tspan><tspan x="442.7">Re</tspan><tspan x="479.3">3000)</tspan></text>
</svg></body></html>
